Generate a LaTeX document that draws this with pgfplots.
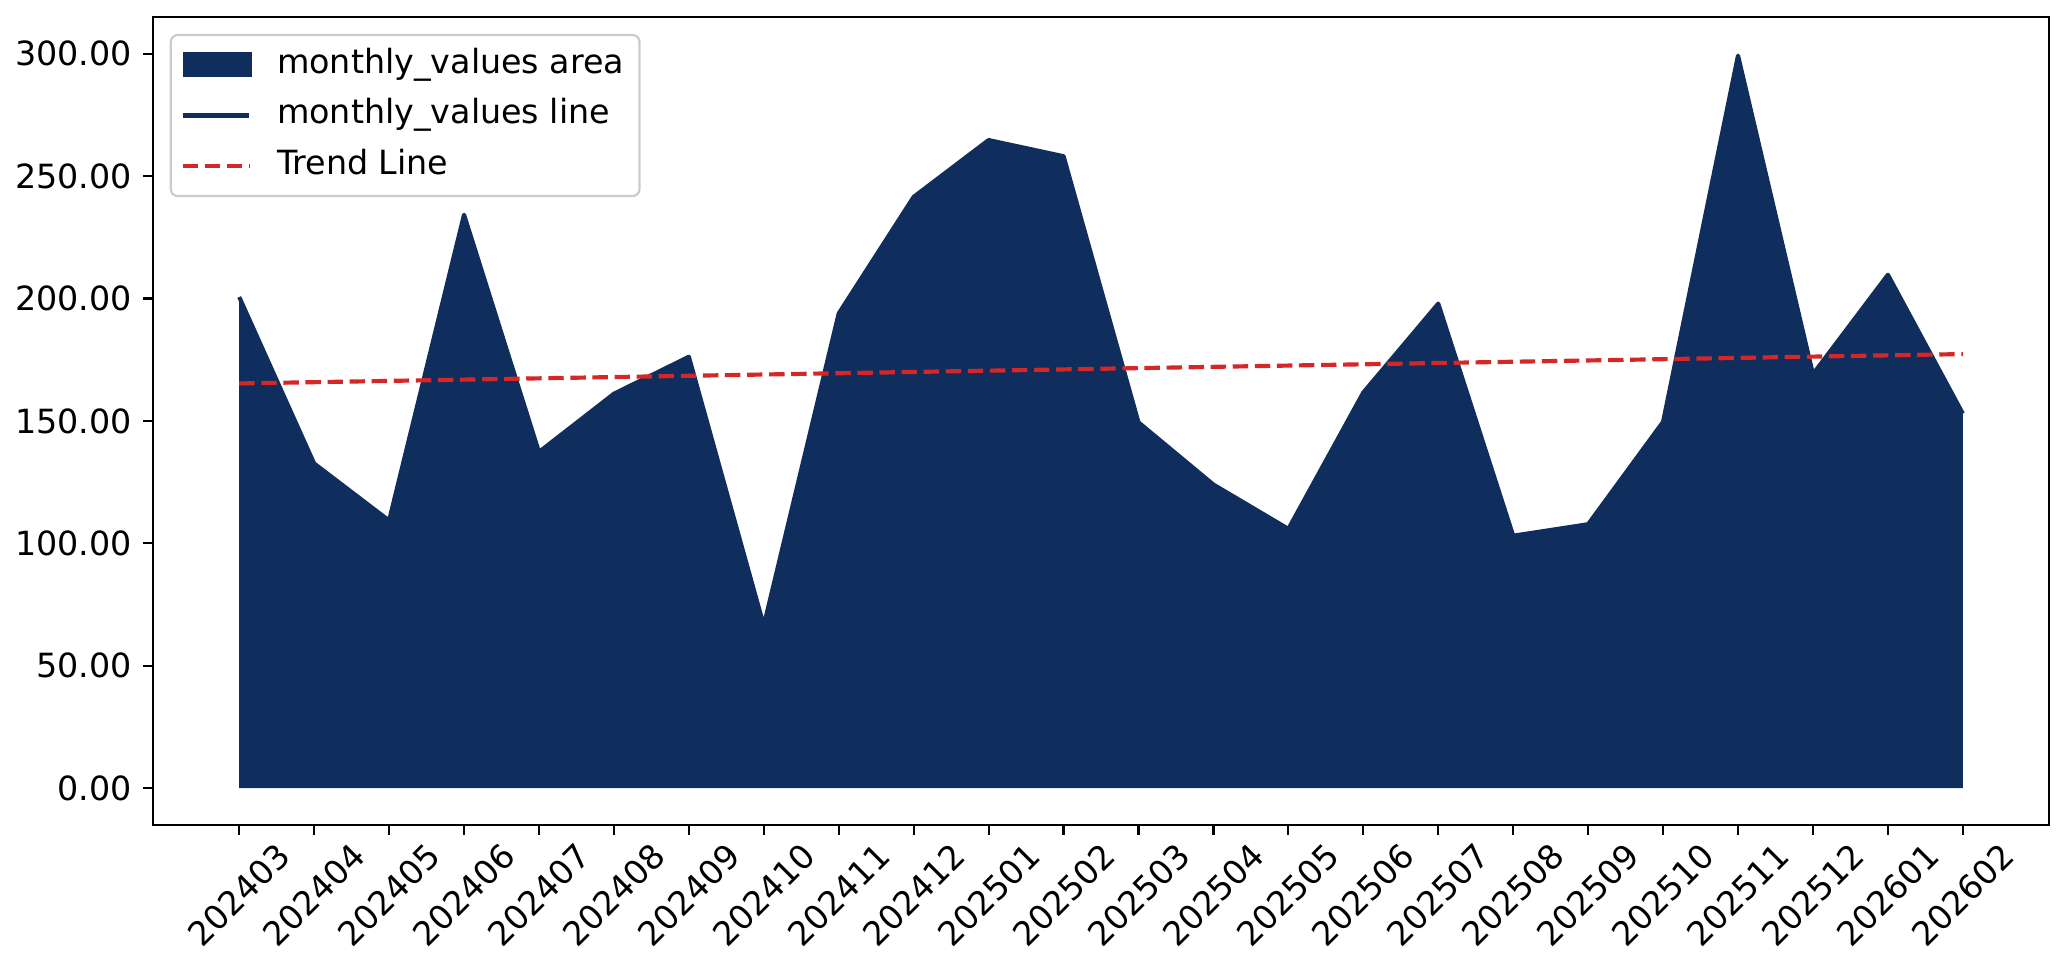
\documentclass[border=0pt,12pt]{standalone}
\usepackage{fontspec}
\setmainfont{DejaVu Sans}
\usepackage{pgfplots}
\pgfplotsset{compat=1.18}

\definecolor{navyc}{RGB}{15,45,93}
\definecolor{trendred}{RGB}{214,39,40}

\pgfplotsset{
  linelegend/.style={legend image code/.code={\draw[##1, line cap=butt] (0pt,0pt) -- (24pt,0pt);}},
  arealegend/.style={legend image code/.code={\fill[navyc, sharp corners, fill opacity=1] (0pt,-4.5pt) rectangle (25pt,4.5pt);}},
}

% monthly values, months indexed 0 (202403) .. 23 (202602)
\pgfplotstableread{
x   y
0   200.6
1   132.6
2   109.3
3   234.2
4   137.3
5   161.1
6   176.2
7   66.4
8   193.9
9   241.5
10  264.7
11  258.1
12  149.4
13  124.0
14  105.9
15  161.6
16  197.9
17  103.1
18  107.8
19  149.6
20  299.2
21  169.1
22  209.7
23  153.0
}\monthly

\begin{document}
\begin{tikzpicture}
\begin{axis}[
    name=ax,
    width=682.6pt, height=290.9pt,
    scale only axis,
    xmin=-1.15, xmax=24.15,
    ymin=-15, ymax=315,
    xtick={0,...,23},
    xticklabels={202403,202404,202405,202406,202407,202408,202409,202410,202411,202412,
                 202501,202502,202503,202504,202505,202506,202507,202508,202509,202510,
                 202511,202512,202601,202602},
    ytick={0,50,...,300},
    /pgf/number format/assume math mode=true,
    yticklabel style={/pgf/number format/.cd, fixed, fixed zerofill, precision=2},
    xticklabel style={anchor=center, yshift=-21.6pt, rotate=45},
    xtick pos=bottom, ytick pos=left,
    tick align=outside,
    major tick length=3.5pt,
    tick style={black, line width=0.8pt},
    axis line style={line width=0.8pt},
    legend cell align=left,
    legend style={
        at={(0.0088,0.979)}, anchor=north west,
        draw=black!20, line width=0.8pt, rounded corners=2.5pt,
        fill=white, fill opacity=0.8, text opacity=1,
        inner xsep=3.5pt, inner ysep=2.8pt,
        row sep=2.2pt,
        nodes={inner xsep=2pt, inner ysep=2pt, text height=9pt, text depth=3pt},
        /tikz/every odd column/.append style={column sep=7pt},
    },
]
\addplot[fill=navyc, draw=none, arealegend] table[x=x, y=y] {\monthly} \closedcycle;
\addlegendentry{monthly\_values area}
\addplot[navyc, line width=1.5pt, line join=round, linelegend] table[x=x, y=y] {\monthly};
\addlegendentry{monthly\_values line}
\addplot[trendred, line width=1.5pt, dash pattern=on 5.55pt off 2.4pt, linelegend]
  coordinates {(0,165.3) (23,177.3)};
\addlegendentry{Trend Line}
\end{axis}
\pgfresetboundingbox
\path ([xshift=-55.1pt,yshift=-54pt]ax.south west) rectangle ([xshift=7.2pt,yshift=6.1pt]ax.north east);
\end{tikzpicture}
\end{document}
